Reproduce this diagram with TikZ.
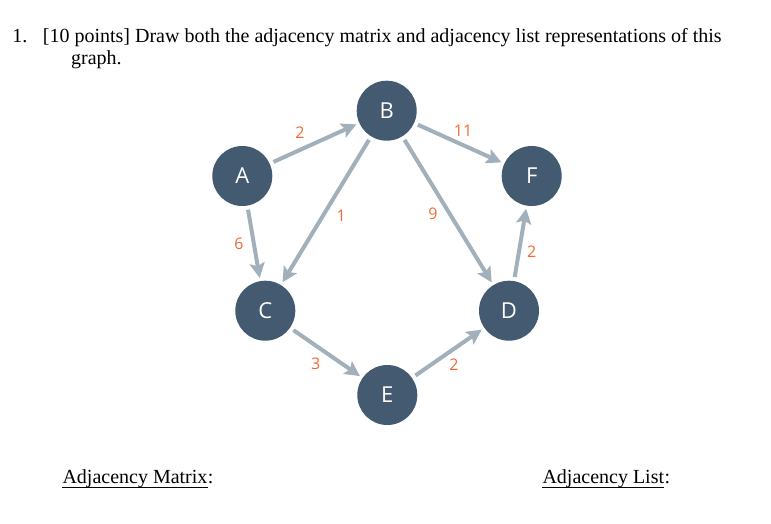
\documentclass[tikz,border=0pt]{standalone}
\usepackage{fontspec}
\setmainfont{Liberation Serif}
\newfontfamily\nodefont{Open Sans}
\usetikzlibrary{arrows.meta}
\definecolor{nodeblue}{HTML}{435A70}
\definecolor{edgegray}{HTML}{A2B0BB}
\definecolor{lblorange}{HTML}{F26A35}
\begin{document}
\begin{tikzpicture}[x=1pt,y=-1pt,
  vtx/.style={circle, fill=nodeblue, minimum size=60pt, inner sep=0pt, text=white, font=\nodefont\fontsize{22}{26}\selectfont},
  arc/.style={draw=edgegray, line width=4pt, -{Stealth[length=15pt,width=15pt,inset=3pt]}, shorten <=4pt, shorten >=3pt},
  wt/.style={text=lblorange, font=\nodefont\fontsize{16}{19}\selectfont, inner sep=0pt},
  txt/.style={anchor=base west, inner sep=0pt, font=\fontsize{20}{24}\selectfont}]
\useasboundingbox[fill=white] (0,0) rectangle (771,523);
% header
\node[txt] (num) at (12.3,42.7) {1.};
\node[txt] (q1) at (42.7,42.7) {[10 points] Draw both the adjacency matrix and adjacency list representations of this};
\node[txt] (q2) at (71,64) {graph.};
% vertices
\node[vtx] (A) at (242.3,176) {A};
\node[vtx] (B) at (386.7,110.7) {B};
\node[vtx] (F) at (531.7,176) {F};
\node[vtx] (C) at (265.3,310.7) {C};
\node[vtx] (D) at (509,310.7) {D};
\node[vtx] (E) at (387.3,395) {E};
% edges
\draw[arc] (A) -- node[wt, xshift=-14.5pt, yshift=10.6pt] {2} (B);
\draw[arc] (B) -- node[wt, xshift=3.8pt, yshift=12.6pt] {11} (F);
\draw[arc] (B) -- node[wt, xshift=15.3pt, yshift=-5.3pt] {1} (C);
\draw[arc] (B) -- node[wt, xshift=-14.85pt, yshift=-3.3pt] {9} (D);
\draw[arc] (A) -- node[wt, xshift=-14.8pt] {6} (C);
\draw[arc] (D) -- node[wt, xshift=11.3pt, yshift=-8.3pt] {2} (F);
\draw[arc] (C) -- node[wt, xshift=-10.6pt, yshift=-10.5pt] {3} (E);
\draw[arc] (E) -- node[wt, xshift=5.85pt, yshift=-12.2pt] {2} (D);
% footer
\node[txt] (am) at (62.3,483) {Adjacency Matrix};
\node[txt] (amc) at (am.base east) {:};
\draw[line width=1.1pt] ([yshift=-4.7pt]am.base west) -- ([yshift=-4.7pt]am.base east);
\node[txt] (al) at (542.3,483) {Adjacency List};
\node[txt] (alc) at (al.base east) {:};
\draw[line width=1.1pt] ([yshift=-4.7pt]al.base west) -- ([yshift=-4.7pt]al.base east);
\end{tikzpicture}
\end{document}
